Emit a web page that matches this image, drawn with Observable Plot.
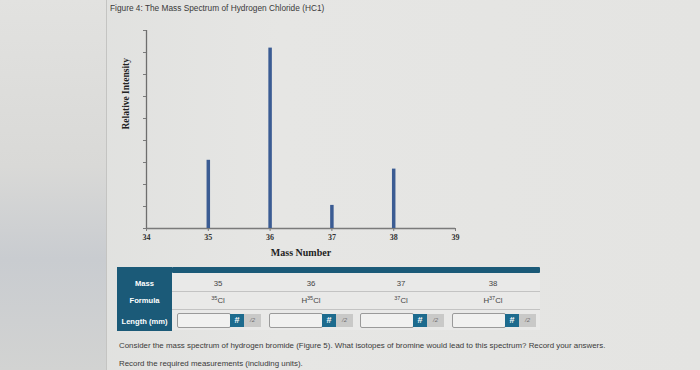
<!DOCTYPE html>
<html>
<head>
<meta charset="utf-8">
<script src="https://cdn.jsdelivr.net/npm/d3@7"></script>
<script src="https://cdn.jsdelivr.net/npm/@observablehq/plot@0.6"></script>
<style>
  html, body { margin: 0; padding: 0; }
  body { width: 700px; height: 370px; position: relative; overflow: hidden;
         background: linear-gradient(90deg, #dedfdd 0%, #e6e6e4 40%, #e4e4e2 100%);
         font-family: "Liberation Sans", Arial, sans-serif; }
  .abs { position: absolute; }
  #leftstrip { left: 0; top: 0; width: 106px; height: 370px;
     background: linear-gradient(180deg, #e2e2e0 0%, #d9d9d7 45%, #c9ccd0 70%, #d2d3d2 100%);
     border-right: 1px solid #c4c4c2; }
  #title { left: 110px; top: 3px; font-size: 8.3px; color: #3a3a3a; white-space: nowrap; }
  #chart { left: 105px; top: 20px; }
  .hdr { background: #1b5a78; }
  .hlabel { color: #fff; font-weight: bold; font-size: 7.6px; width: 55px; text-align: center; left: 117px; }
  .cell { font-size: 7.8px; color: #444; width: 80px; text-align: center; }
  .cell sup { font-size: 5.5px; vertical-align: 3px; }
  .sep { left: 172px; width: 368px; height: 1px; background: #c3c3c3; }
  .inp { top: 313px; height: 13px; width: 52px; background: #f1f1f0; border: 1px solid #9a9a9a; border-radius: 2px; }
  .hash { top: 314px; height: 13px; width: 14px; background: #1d6b8e; color: #fff; font-weight: bold; font-size: 9px; text-align: center; line-height: 13px; }
  .pts { top: 314px; height: 13px; width: 17px; background: #c9c9c8; color: #6f6f6f; font-style: italic; font-size: 6px; text-align: center; line-height: 13px; }
  .q { left: 119px; font-size: 7.9px; color: #3a3a3a; white-space: nowrap; }
</style>
</head>
<body>
<div id="leftstrip" class="abs"></div>
<div id="title" class="abs">Figure 4: The Mass Spectrum of Hydrogen Chloride (HC1)</div>
<div id="chart" class="abs"></div>
<div id="table"></div>
<div class="abs q" style="top:341px">Consider the mass spectrum of hydrogen bromide (Figure 5). What isotopes of bromine would lead to this spectrum? Record your answers.</div>
<div class="abs q" style="top:359px">Record the required measurements (including units).</div>
<script>
// ---- data ----
const masses = [35, 36, 37, 38];
const intensities = [3.1, 8.2, 1.05, 2.7];
const xTicks = [34, 35, 36, 37, 38, 39];
const yTicks = [0, 1, 2, 3, 4, 5, 6, 7, 8, 9];
const formulaPrefix = ["", "H", "", "H"];
const formulaIsotope = ["35", "35", "37", "37"];
const formulaElement = ["Cl", "Cl", "Cl", "Cl"];
const rowLabels = ["Mass", "Formula", "Length (mm)"];
const xLabel = "Mass Number";
const yLabel = "Relative Intensity";

const peaks = masses.map((m, i) => ({mass: m, intensity: intensities[i]}));

const chart = Plot.plot({
  width: 370,
  height: 245,
  marginLeft: 41,
  marginRight: 20,
  marginTop: 10,
  marginBottom: 37,
  style: {background: "transparent", fontFamily: "Liberation Serif, serif", color: "#222"},
  x: {domain: [34, 39]},
  y: {domain: [0, 9]},
  marks: [
    Plot.ruleY([0], {stroke: "#7a7a7a", strokeWidth: 1.3}),
    Plot.ruleX([xTicks[0]], {stroke: "#6e6e6e", strokeWidth: 1.3}),
    Plot.axisY({ticks: yTicks, tickSize: 3, tickFormat: () => "", label: null, stroke: "#7a7a7a"}),
    Plot.axisX({ticks: xTicks, tickSize: 3, tickPadding: 3, tickFormat: d => String(d),
                fontSize: 8, fontWeight: "bold", label: null, stroke: "#7a7a7a", fill: "#333"}),
    Plot.ruleX(peaks, {x: "mass", y1: 0, y2: "intensity", stroke: "#3b5c93", strokeWidth: 3.5}),
    Plot.text([xLabel], {frameAnchor: "bottom", dy: 27, fontSize: 10, fontWeight: "bold", fill: "#222"}),
    Plot.text([yLabel], {frameAnchor: "left", dx: -21, rotate: -90, fontSize: 9.5, fontWeight: "bold", fill: "#222"})
  ]
});
document.getElementById("chart").appendChild(chart);

// ---- table ----
const t = document.getElementById("table");
function add(cls, style, html) {
  const d = document.createElement("div");
  d.className = "abs " + cls;
  Object.assign(d.style, style);
  if (html != null) d.innerHTML = html;
  t.appendChild(d);
  return d;
}
add("", {left: "172px", top: "273px", width: "368px", height: "57px", background: "#e9e9e8"});
add("hdr", {left: "172px", top: "267px", width: "368px", height: "6px", borderRadius: "1px"});
add("hdr", {left: "117px", top: "267px", width: "55px", height: "64px"});
const rowY = [279, 296, 317];
rowLabels.forEach((l, i) => add("hlabel", {top: rowY[i] + "px"}, l));
add("sep", {top: "291px"});
add("sep", {top: "309px"});
const colCenters = [218, 311, 401, 493];
const boxStarts = [177, 269, 360, 452];
masses.forEach((m, i) => {
  add("cell", {left: (colCenters[i] - 40) + "px", top: "279px"}, String(m));
  add("cell", {left: (colCenters[i] - 40) + "px", top: "295px"},
      formulaPrefix[i] + "<sup>" + formulaIsotope[i] + "</sup>" + formulaElement[i]);
  add("inp", {left: boxStarts[i] + "px"});
  add("hash", {left: (boxStarts[i] + 53) + "px"}, "#");
  add("pts", {left: (boxStarts[i] + 67) + "px"}, "/2");
});
</script>
</body>
</html>
